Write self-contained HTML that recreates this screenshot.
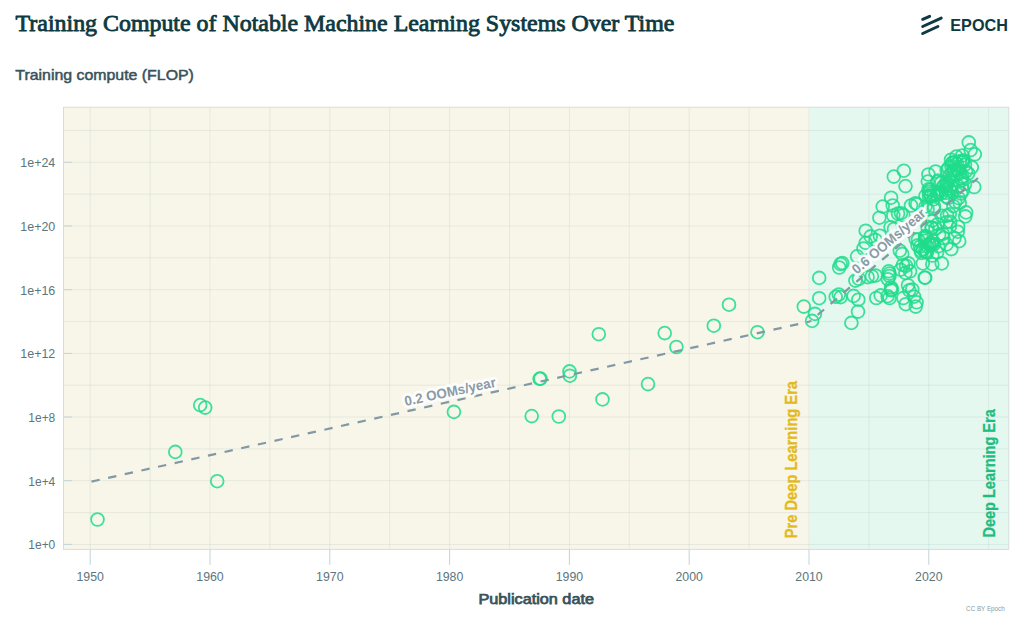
<!DOCTYPE html>
<html><head><meta charset="utf-8"><title>Training Compute of Notable Machine Learning Systems Over Time</title>
<style>html,body{margin:0;padding:0;background:#fff}body{width:1024px;height:631px;overflow:hidden;font-family:"Liberation Sans",sans-serif}svg{display:block}text{font-family:"Liberation Sans",sans-serif}.ser{font-family:"Liberation Serif",serif}</style>
</head><body>
<svg width="1024" height="631" viewBox="0 0 1024 631">
<rect width="1024" height="631" fill="#ffffff"/>
<text class="ser" x="15.6" y="30.8" font-size="22.4" font-weight="normal" stroke="#0e3940" stroke-width="0.8" stroke-linejoin="round" fill="#0e3940" textLength="658.8" lengthAdjust="spacingAndGlyphs">Training Compute of Notable Machine Learning Systems Over Time</text>
<g stroke="#0e3940" stroke-width="3.0" stroke-linecap="round" fill="none">
<path d="M922.7 19.3 L929.6 16.3"/><path d="M922.7 26.5 L941.2 18.1"/><path d="M922.7 33.5 L937.9 26.5"/></g>
<text x="950.3" y="30.8" font-size="16.2" font-weight="bold" fill="#0e3940" textLength="57.6" lengthAdjust="spacingAndGlyphs">EPOCH</text>
<text x="15.3" y="80.4" font-size="14.6" fill="#38525b" stroke="#38525b" stroke-width="0.5" textLength="178.6" lengthAdjust="spacingAndGlyphs">Training compute (FLOP)</text>
<rect x="63.5" y="107.2" width="746.0" height="442.2" fill="#f8f6e9"/>
<rect x="809.5" y="107.2" width="199.29999999999995" height="442.2" fill="#e5f8f0"/>
<path d="M90.2 107.2V549.4M150.1 107.2V549.4M210.0 107.2V549.4M269.9 107.2V549.4M329.8 107.2V549.4M389.7 107.2V549.4M449.6 107.2V549.4M509.5 107.2V549.4M569.4 107.2V549.4M629.3 107.2V549.4M689.2 107.2V549.4M749.1 107.2V549.4M809.0 107.2V549.4M868.9 107.2V549.4M928.8 107.2V549.4M988.7 107.2V549.4M63.5 544.4H1008.8M63.5 512.6H1008.8M63.5 480.7H1008.8M63.5 448.9H1008.8M63.5 417.0H1008.8M63.5 385.2H1008.8M63.5 353.4H1008.8M63.5 321.5H1008.8M63.5 289.7H1008.8M63.5 257.8H1008.8M63.5 226.0H1008.8M63.5 194.2H1008.8M63.5 162.3H1008.8M63.5 130.5H1008.8" stroke="#7f9aa3" stroke-opacity="0.14" stroke-width="1" fill="none"/>
<rect x="63.5" y="107.2" width="945.3" height="442.2" fill="none" stroke="#d9dcd9" stroke-width="1"/>
<path d="M90.2 549.4V564.8M210.0 549.4V564.8M329.8 549.4V564.8M449.6 549.4V564.8M569.4 549.4V564.8M689.2 549.4V564.8M809.0 549.4V564.8M928.8 549.4V564.8M63.5 544.4h8.3M63.5 480.7h8.3M63.5 417.0h8.3M63.5 353.4h8.3M63.5 289.7h8.3M63.5 226.0h8.3M63.5 162.3h8.3" stroke="#c3d3d8" stroke-width="1" fill="none"/>
<text x="90.2" y="580.5" font-size="12.5" fill="#5d757d" text-anchor="middle" textLength="27.4" lengthAdjust="spacingAndGlyphs">1950</text>
<text x="210.0" y="580.5" font-size="12.5" fill="#5d757d" text-anchor="middle" textLength="27.4" lengthAdjust="spacingAndGlyphs">1960</text>
<text x="329.8" y="580.5" font-size="12.5" fill="#5d757d" text-anchor="middle" textLength="27.4" lengthAdjust="spacingAndGlyphs">1970</text>
<text x="449.6" y="580.5" font-size="12.5" fill="#5d757d" text-anchor="middle" textLength="27.4" lengthAdjust="spacingAndGlyphs">1980</text>
<text x="569.4" y="580.5" font-size="12.5" fill="#5d757d" text-anchor="middle" textLength="27.4" lengthAdjust="spacingAndGlyphs">1990</text>
<text x="689.2" y="580.5" font-size="12.5" fill="#5d757d" text-anchor="middle" textLength="27.4" lengthAdjust="spacingAndGlyphs">2000</text>
<text x="809.0" y="580.5" font-size="12.5" fill="#5d757d" text-anchor="middle" textLength="27.4" lengthAdjust="spacingAndGlyphs">2010</text>
<text x="928.8" y="580.5" font-size="12.5" fill="#5d757d" text-anchor="middle" textLength="27.4" lengthAdjust="spacingAndGlyphs">2020</text>
<text x="55.3" y="549.3" font-size="12.6" fill="#5d757d" text-anchor="end" textLength="27" lengthAdjust="spacingAndGlyphs">1e+0</text>
<text x="55.3" y="485.6" font-size="12.6" fill="#5d757d" text-anchor="end" textLength="27" lengthAdjust="spacingAndGlyphs">1e+4</text>
<text x="55.3" y="421.9" font-size="12.6" fill="#5d757d" text-anchor="end" textLength="27" lengthAdjust="spacingAndGlyphs">1e+8</text>
<text x="55.3" y="358.3" font-size="12.6" fill="#5d757d" text-anchor="end" textLength="35" lengthAdjust="spacingAndGlyphs">1e+12</text>
<text x="55.3" y="294.6" font-size="12.6" fill="#5d757d" text-anchor="end" textLength="35" lengthAdjust="spacingAndGlyphs">1e+16</text>
<text x="55.3" y="230.9" font-size="12.6" fill="#5d757d" text-anchor="end" textLength="35" lengthAdjust="spacingAndGlyphs">1e+20</text>
<text x="55.3" y="167.2" font-size="12.6" fill="#5d757d" text-anchor="end" textLength="35" lengthAdjust="spacingAndGlyphs">1e+24</text>
<text x="478.4" y="603.5" font-size="15" fill="#38525b" stroke="#38525b" stroke-width="0.75" textLength="115.6" lengthAdjust="spacingAndGlyphs">Publication date</text>
<text transform="translate(797.2 538.2) rotate(-90)" font-size="15.6" font-weight="bold" fill="#e2ba1f" stroke="#e2ba1f" stroke-width="0.3" textLength="157.2" lengthAdjust="spacingAndGlyphs">Pre Deep Learning Era</text>
<text transform="translate(995.3 537.6) rotate(-90)" font-size="15.6" font-weight="bold" fill="#1dbd80" stroke="#1dbd80" stroke-width="0.3" textLength="128.4" lengthAdjust="spacingAndGlyphs">Deep Learning Era</text>
<g fill="none" stroke="#1fdc8c" stroke-opacity="0.86" stroke-width="1.8">
<circle cx="97.5" cy="519.5" r="6.4"/>
<circle cx="175.3" cy="451.9" r="6.4"/>
<circle cx="200.2" cy="405.1" r="6.4"/>
<circle cx="205.2" cy="407.6" r="6.4"/>
<circle cx="217.2" cy="481.2" r="6.4"/>
<circle cx="453.9" cy="411.9" r="6.4"/>
<circle cx="531.7" cy="416.1" r="6.4"/>
<circle cx="558.8" cy="416.5" r="6.4"/>
<circle cx="539.6" cy="378.8" r="6.4"/>
<circle cx="540.5" cy="378.6" r="6.4"/>
<circle cx="569.5" cy="371.4" r="6.4"/>
<circle cx="569.9" cy="375.7" r="6.4"/>
<circle cx="598.8" cy="334.2" r="6.4"/>
<circle cx="602.5" cy="399.4" r="6.4"/>
<circle cx="648.0" cy="384.1" r="6.4"/>
<circle cx="664.7" cy="333.1" r="6.4"/>
<circle cx="676.4" cy="347.0" r="6.4"/>
<circle cx="713.8" cy="325.7" r="6.4"/>
<circle cx="729.0" cy="304.7" r="6.4"/>
<circle cx="757.5" cy="332.2" r="6.4"/>
<circle cx="803.8" cy="306.6" r="6.4"/>
<circle cx="814.9" cy="313.9" r="6.4"/>
<circle cx="812.1" cy="320.9" r="6.4"/>
<circle cx="819.2" cy="298.2" r="6.4"/>
<circle cx="819.2" cy="277.9" r="6.4"/>
<circle cx="835.7" cy="296.8" r="6.4"/>
<circle cx="838.8" cy="294.5" r="6.4"/>
<circle cx="840.6" cy="297.1" r="6.4"/>
<circle cx="839.2" cy="267.5" r="6.4"/>
<circle cx="842.3" cy="263.1" r="6.4"/>
<circle cx="840.6" cy="264.0" r="6.4"/>
<circle cx="853.6" cy="295.9" r="6.4"/>
<circle cx="858.3" cy="299.7" r="6.4"/>
<circle cx="858.0" cy="311.6" r="6.4"/>
<circle cx="851.4" cy="322.9" r="6.4"/>
<circle cx="855.4" cy="280.6" r="6.4"/>
<circle cx="858.9" cy="278.8" r="6.4"/>
<circle cx="867.6" cy="277.1" r="6.4"/>
<circle cx="871.9" cy="276.2" r="6.4"/>
<circle cx="875.5" cy="275.5" r="6.4"/>
<circle cx="876.3" cy="298.0" r="6.4"/>
<circle cx="880.7" cy="295.4" r="6.4"/>
<circle cx="887.6" cy="296.2" r="6.4"/>
<circle cx="891.1" cy="287.5" r="6.4"/>
<circle cx="889.4" cy="273.6" r="6.4"/>
<circle cx="865.7" cy="230.7" r="6.4"/>
<circle cx="870.7" cy="236.4" r="6.4"/>
<circle cx="865.7" cy="242.8" r="6.4"/>
<circle cx="863.5" cy="248.5" r="6.4"/>
<circle cx="857.1" cy="256.3" r="6.4"/>
<circle cx="879.9" cy="235.7" r="6.4"/>
<circle cx="875.5" cy="240.0" r="6.4"/>
<circle cx="903.8" cy="170.7" r="6.4"/>
<circle cx="893.8" cy="176.6" r="6.4"/>
<circle cx="905.5" cy="186.1" r="6.4"/>
<circle cx="891.1" cy="197.7" r="6.4"/>
<circle cx="882.7" cy="206.6" r="6.4"/>
<circle cx="892.7" cy="205.5" r="6.4"/>
<circle cx="879.4" cy="217.7" r="6.4"/>
<circle cx="901.0" cy="213.2" r="6.4"/>
<circle cx="893.3" cy="215.5" r="6.4"/>
<circle cx="911.0" cy="205.5" r="6.4"/>
<circle cx="915.5" cy="203.2" r="6.4"/>
<circle cx="903.3" cy="215.0" r="6.4"/>
<circle cx="898.0" cy="213.5" r="6.4"/>
<circle cx="890.5" cy="227.2" r="6.4"/>
<circle cx="894.0" cy="229.0" r="6.4"/>
<circle cx="928.4" cy="174.5" r="6.4"/>
<circle cx="935.6" cy="171.5" r="6.4"/>
<circle cx="927.8" cy="181.6" r="6.4"/>
<circle cx="925.5" cy="195.9" r="6.4"/>
<circle cx="952.8" cy="162.6" r="6.4"/>
<circle cx="956.4" cy="156.6" r="6.4"/>
<circle cx="962.3" cy="155.5" r="6.4"/>
<circle cx="951.0" cy="159.7" r="6.4"/>
<circle cx="968.8" cy="142.4" r="6.4"/>
<circle cx="970.6" cy="150.1" r="6.4"/>
<circle cx="974.8" cy="154.3" r="6.4"/>
<circle cx="971.8" cy="167.3" r="6.4"/>
<circle cx="968.2" cy="173.3" r="6.4"/>
<circle cx="974.2" cy="187.0" r="6.4"/>
<circle cx="966.1" cy="212.4" r="6.4"/>
<circle cx="965.3" cy="216.4" r="6.4"/>
<circle cx="959.7" cy="202.9" r="6.4"/>
<circle cx="953.4" cy="206.1" r="6.4"/>
<circle cx="947.1" cy="215.6" r="6.4"/>
<circle cx="950.2" cy="221.9" r="6.4"/>
<circle cx="958.1" cy="226.7" r="6.4"/>
<circle cx="958.7" cy="198.2" r="6.4"/>
<circle cx="961.1" cy="193.5" r="6.4"/>
<circle cx="955.2" cy="201.8" r="6.4"/>
<circle cx="917.1" cy="204.2" r="6.4"/>
<circle cx="925.5" cy="206.6" r="6.4"/>
<circle cx="933.8" cy="208.9" r="6.4"/>
<circle cx="957.7" cy="231.7" r="6.4"/>
<circle cx="959.2" cy="241.2" r="6.4"/>
<circle cx="951.3" cy="249.1" r="6.4"/>
<circle cx="949.7" cy="226.9" r="6.4"/>
<circle cx="946.6" cy="222.2" r="6.4"/>
<circle cx="941.8" cy="215.8" r="6.4"/>
<circle cx="949.7" cy="214.3" r="6.4"/>
<circle cx="954.5" cy="238.0" r="6.4"/>
<circle cx="943.4" cy="238.0" r="6.4"/>
<circle cx="946.6" cy="244.4" r="6.4"/>
<circle cx="941.8" cy="263.4" r="6.4"/>
<circle cx="932.3" cy="264.2" r="6.4"/>
<circle cx="925.2" cy="277.7" r="6.4"/>
<circle cx="922.8" cy="263.4" r="6.4"/>
<circle cx="937.1" cy="252.3" r="6.4"/>
<circle cx="932.3" cy="255.5" r="6.4"/>
<circle cx="927.5" cy="209.5" r="6.4"/>
<circle cx="933.9" cy="206.3" r="6.4"/>
<circle cx="932.3" cy="220.6" r="6.4"/>
<circle cx="935.5" cy="228.5" r="6.4"/>
<circle cx="927.5" cy="226.9" r="6.4"/>
<circle cx="903.0" cy="265.0" r="6.4"/>
<circle cx="906.1" cy="265.8" r="6.4"/>
<circle cx="908.5" cy="263.4" r="6.4"/>
<circle cx="900.6" cy="269.7" r="6.4"/>
<circle cx="905.4" cy="272.9" r="6.4"/>
<circle cx="910.1" cy="271.3" r="6.4"/>
<circle cx="888.7" cy="271.3" r="6.4"/>
<circle cx="889.5" cy="276.1" r="6.4"/>
<circle cx="887.9" cy="279.2" r="6.4"/>
<circle cx="891.1" cy="290.3" r="6.4"/>
<circle cx="891.9" cy="289.5" r="6.4"/>
<circle cx="889.5" cy="298.0" r="6.4"/>
<circle cx="909.3" cy="290.3" r="6.4"/>
<circle cx="914.1" cy="296.7" r="6.4"/>
<circle cx="902.2" cy="253.9" r="6.4"/>
<circle cx="899.8" cy="250.7" r="6.4"/>
<circle cx="908.0" cy="285.2" r="6.4"/>
<circle cx="912.3" cy="289.5" r="6.4"/>
<circle cx="903.3" cy="298.0" r="6.4"/>
<circle cx="905.7" cy="304.2" r="6.4"/>
<circle cx="916.6" cy="302.3" r="6.4"/>
<circle cx="915.7" cy="306.6" r="6.4"/>
<circle cx="924.7" cy="277.6" r="6.4"/>
<circle cx="917.6" cy="245.4" r="6.4"/>
<circle cx="920.1" cy="246.6" r="6.4"/>
<circle cx="925.0" cy="236.3" r="6.4"/>
<circle cx="918.0" cy="239.6" r="6.4"/>
<circle cx="932.0" cy="244.0" r="6.4"/>
<circle cx="929.0" cy="244.2" r="6.4"/>
<circle cx="925.2" cy="238.0" r="6.4"/>
<circle cx="925.2" cy="251.6" r="6.4"/>
<circle cx="923.0" cy="249.2" r="6.4"/>
<circle cx="925.9" cy="236.3" r="6.4"/>
<circle cx="927.5" cy="246.3" r="6.4"/>
<circle cx="929.5" cy="244.1" r="6.4"/>
<circle cx="926.8" cy="251.8" r="6.4"/>
<circle cx="926.7" cy="252.6" r="6.4"/>
<circle cx="920.6" cy="250.3" r="6.4"/>
<circle cx="921.5" cy="252.9" r="6.4"/>
<circle cx="915.7" cy="239.2" r="6.4"/>
<circle cx="931.4" cy="243.4" r="6.4"/>
<circle cx="925.0" cy="240.8" r="6.4"/>
<circle cx="959.8" cy="173.1" r="6.4"/>
<circle cx="962.1" cy="176.5" r="6.4"/>
<circle cx="948.6" cy="167.8" r="6.4"/>
<circle cx="965.9" cy="171.3" r="6.4"/>
<circle cx="956.9" cy="163.7" r="6.4"/>
<circle cx="958.3" cy="169.9" r="6.4"/>
<circle cx="953.3" cy="176.4" r="6.4"/>
<circle cx="962.5" cy="162.0" r="6.4"/>
<circle cx="963.1" cy="161.6" r="6.4"/>
<circle cx="959.7" cy="161.4" r="6.4"/>
<circle cx="952.0" cy="163.1" r="6.4"/>
<circle cx="958.2" cy="171.9" r="6.4"/>
<circle cx="965.0" cy="164.7" r="6.4"/>
<circle cx="954.9" cy="162.2" r="6.4"/>
<circle cx="953.7" cy="170.5" r="6.4"/>
<circle cx="946.0" cy="196.4" r="6.4"/>
<circle cx="937.1" cy="181.8" r="6.4"/>
<circle cx="936.6" cy="194.8" r="6.4"/>
<circle cx="933.8" cy="195.0" r="6.4"/>
<circle cx="930.9" cy="195.8" r="6.4"/>
<circle cx="944.2" cy="185.8" r="6.4"/>
<circle cx="938.6" cy="192.7" r="6.4"/>
<circle cx="928.6" cy="189.4" r="6.4"/>
<circle cx="946.3" cy="181.9" r="6.4"/>
<circle cx="946.3" cy="192.8" r="6.4"/>
<circle cx="947.5" cy="183.7" r="6.4"/>
<circle cx="946.3" cy="186.6" r="6.4"/>
<circle cx="941.4" cy="182.6" r="6.4"/>
<circle cx="950.6" cy="190.3" r="6.4"/>
<circle cx="928.8" cy="192.0" r="6.4"/>
<circle cx="933.5" cy="199.3" r="6.4"/>
<circle cx="949.4" cy="188.4" r="6.4"/>
<circle cx="941.7" cy="193.1" r="6.4"/>
<circle cx="962.0" cy="180.0" r="6.4"/>
<circle cx="965.0" cy="184.0" r="6.4"/>
<circle cx="958.0" cy="186.0" r="6.4"/>
<circle cx="963.0" cy="190.0" r="6.4"/>
<circle cx="952.0" cy="192.0" r="6.4"/>
<circle cx="948.0" cy="198.0" r="6.4"/>
<circle cx="938.0" cy="180.6" r="6.4"/>
<circle cx="951.4" cy="166.2" r="6.4"/>
<circle cx="949.9" cy="174.8" r="6.4"/>
<circle cx="930.7" cy="196.2" r="6.4"/>
<circle cx="928.9" cy="196.1" r="6.4"/>
<circle cx="950.7" cy="185.4" r="6.4"/>
<circle cx="930.1" cy="189.8" r="6.4"/>
<circle cx="961.1" cy="178.7" r="6.4"/>
<circle cx="952.1" cy="173.5" r="6.4"/>
<circle cx="963.1" cy="160.6" r="6.4"/>
<circle cx="945.5" cy="190.0" r="6.4"/>
<circle cx="937.0" cy="192.1" r="6.4"/>
<circle cx="954.5" cy="170.6" r="6.4"/>
<circle cx="946.7" cy="170.3" r="6.4"/>
<circle cx="957.0" cy="169.7" r="6.4"/>
<circle cx="942.9" cy="186.7" r="6.4"/>
<circle cx="932.5" cy="240.7" r="6.4"/>
<circle cx="931.7" cy="227.9" r="6.4"/>
<circle cx="942.8" cy="233.9" r="6.4"/>
<circle cx="939.1" cy="234.9" r="6.4"/>
<circle cx="933.8" cy="244.3" r="6.4"/>
<circle cx="931.8" cy="227.6" r="6.4"/>
<circle cx="938.2" cy="246.3" r="6.4"/>
<circle cx="937.6" cy="224.2" r="6.4"/>
</g>
<g stroke="#8299a5" stroke-width="2.2" stroke-dasharray="8.4 8.56" fill="none">
<path d="M91.5 481.6 L810 321.5" stroke-dasharray="8.4 8.64"/>
<path d="M810 321.5 L978 178" stroke-dashoffset="-10.1"/>
</g>
<g transform="translate(451 396.3) rotate(-12.0)">
<text x="0" y="0" font-size="13.8" font-weight="bold" text-anchor="middle" fill="#ffffff" stroke="#ffffff" stroke-opacity="0.9" stroke-width="5.5" stroke-linejoin="round" textLength="93" lengthAdjust="spacingAndGlyphs">0.2 OOMs/year</text>
<text x="0" y="0" font-size="13.8" font-weight="bold" text-anchor="middle" fill="#8a9ba4" textLength="93" lengthAdjust="spacingAndGlyphs">0.2 OOMs/year</text>
</g>
<g transform="translate(891.8 244.8) rotate(-40.5)">
<text x="0" y="0" font-size="13.8" font-weight="bold" text-anchor="middle" fill="#ffffff" stroke="#ffffff" stroke-opacity="0.9" stroke-width="5.5" stroke-linejoin="round" textLength="92" lengthAdjust="spacingAndGlyphs">0.6 OOMs/year</text>
<text x="0" y="0" font-size="13.8" font-weight="bold" text-anchor="middle" fill="#8a9ba4" textLength="92" lengthAdjust="spacingAndGlyphs">0.6 OOMs/year</text>
</g>
<text x="966.1" y="610.9" font-size="7" fill="#8a9aa1" textLength="38.6" lengthAdjust="spacingAndGlyphs">CC BY Epoch</text>
</svg></body></html>
